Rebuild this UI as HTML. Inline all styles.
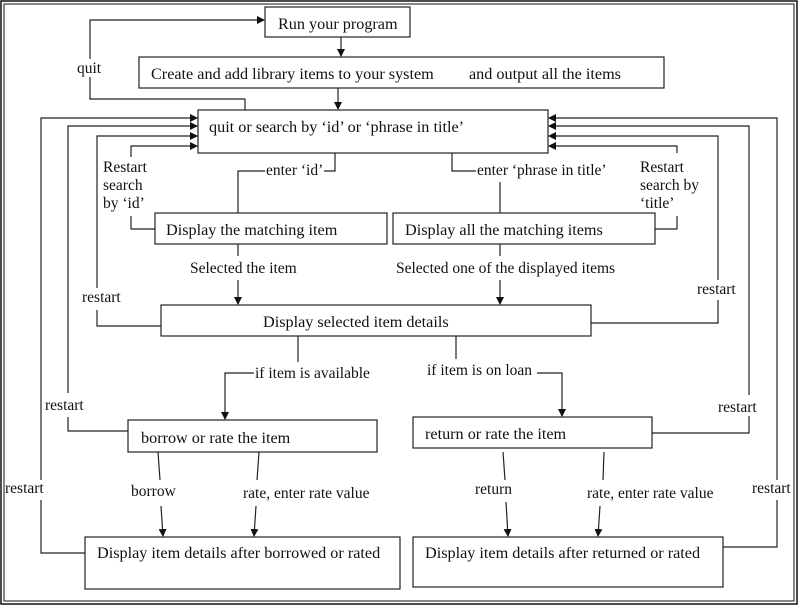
<!DOCTYPE html>
<html><head><style>
html,body{margin:0;padding:0;background:#fff;}
svg{display:block;font-family:"Liberation Serif",serif;}
.b{font-size:16.2px;fill:#111;}
.l{font-size:15.5px;fill:#111;}
</style></head><body>
<svg width="798" height="605" viewBox="0 0 798 605" xmlns="http://www.w3.org/2000/svg">
<defs><marker id="a" markerWidth="8" markerHeight="8" refX="7" refY="4" orient="auto" markerUnits="userSpaceOnUse"><path d="M0,0 L8,4 L0,8 z" fill="#111"/></marker></defs>
<rect x="1" y="1" width="796" height="603" fill="none" stroke="#111" stroke-width="1.5"/>
<rect x="4" y="4" width="790" height="597" fill="none" stroke="#111" stroke-width="1"/>
<g fill="#fff" stroke="#222" stroke-width="1.2">
<rect x="265" y="7" width="145" height="30"/>
<rect x="139" y="57" width="525" height="31"/>
<rect x="198" y="110" width="350" height="43"/>
<rect x="155" y="213" width="232" height="31"/>
<rect x="393" y="213" width="262" height="31"/>
<rect x="161" y="305" width="430" height="31"/>
<rect x="128" y="420" width="249" height="32"/>
<rect x="413" y="417" width="239" height="31"/>
<rect x="85" y="537" width="315" height="52"/>
<rect x="413" y="537" width="310" height="50"/>
</g>
<g fill="none" stroke="#222" stroke-width="1.2">
<path d="M341,37 V56" marker-end="url(#a)"/>
<path d="M338,88 V109" marker-end="url(#a)"/>
<path d="M245,110 V99 H90 V77 M90,59 V20 H264" marker-end="url(#a)"/>
<path d="M41,480 V118 H197" marker-end="url(#a)"/>
<path d="M68,393 V126 H197" marker-end="url(#a)"/>
<path d="M97,288 V136 H197" marker-end="url(#a)"/>
<path d="M131,157 V146 H197" marker-end="url(#a)"/>
<path d="M777,480 V118 H549" marker-end="url(#a)"/>
<path d="M749,395 V126 H549" marker-end="url(#a)"/>
<path d="M718,280 V136 H549" marker-end="url(#a)"/>
<path d="M677,153 V146 H549" marker-end="url(#a)"/>
<path d="M335,153 V171 H324 M265,171 H238 V213"/>
<path d="M452,153 V171 H476 M500,182 V213"/>
<path d="M131,216 V229 H155"/>
<path d="M677,216 V229 H655"/>
<path d="M238,244 V256"/>
<path d="M238,280 V304" marker-end="url(#a)"/>
<path d="M500,244 V256"/>
<path d="M500,280 V304" marker-end="url(#a)"/>
<path d="M97,310 V326 H161"/>
<path d="M718,300 V323 H591"/>
<path d="M298,336 V362"/>
<path d="M254,373 H225 V419" marker-end="url(#a)"/>
<path d="M456,336 V359"/>
<path d="M537,373 H562 V416" marker-end="url(#a)"/>
<path d="M68,417 V431 H128"/>
<path d="M749,416 V433 H652"/>
<path d="M41,500 V553 H85"/>
<path d="M777,500 V547 H723"/>
<path d="M158,452 L160,480 M161,506 L163,536" marker-end="url(#a)"/>
<path d="M259,452 L257,480 M256,506 L254,536" marker-end="url(#a)"/>
<path d="M503,452 L505,480 M506,502 L508,536" marker-end="url(#a)"/>
<path d="M604,452 L603,480 M600,506 L598,536" marker-end="url(#a)"/>
</g>
<text class="b" x="278" y="29">Run your program</text>
<text class="b" x="151" y="79">Create and add library items to your system</text>
<text class="b" x="469" y="79">and output all the items</text>
<text class="b" x="209" y="132">quit or search by ‘id’ or ‘phrase in title’</text>
<text class="b" x="166" y="235">Display the matching item</text>
<text class="b" x="405" y="235">Display all the matching items</text>
<text class="b" x="263" y="327">Display selected item details</text>
<text class="b" x="141" y="443">borrow or rate the item</text>
<text class="b" x="425" y="439">return or rate the item</text>
<text class="b" x="97" y="558">Display item details after borrowed or rated</text>
<text class="b" x="425" y="558">Display item details after returned or rated</text>
<g class="l">
<text x="77" y="73">quit</text>
<text x="266" y="175">enter ‘id’</text>
<text x="477" y="175">enter ‘phrase in title’</text>
<text x="103" y="172">Restart</text>
<text x="103" y="190">search</text>
<text x="103" y="208">by ‘id’</text>
<text x="640" y="172">Restart</text>
<text x="640" y="190">search by</text>
<text x="640" y="208">‘title’</text>
<text x="190" y="273">Selected the item</text>
<text x="396" y="273">Selected one of the displayed items</text>
<text x="82" y="302">restart</text>
<text x="697" y="294">restart</text>
<text x="255" y="378">if item is available</text>
<text x="427" y="375">if item is on loan</text>
<text x="45" y="410">restart</text>
<text x="718" y="412">restart</text>
<text x="5" y="493">restart</text>
<text x="752" y="493">restart</text>
<text x="131" y="496">borrow</text>
<text x="243" y="498">rate, enter rate value</text>
<text x="475" y="494">return</text>
<text x="587" y="498">rate, enter rate value</text>
</g>
</svg>
</body></html>
